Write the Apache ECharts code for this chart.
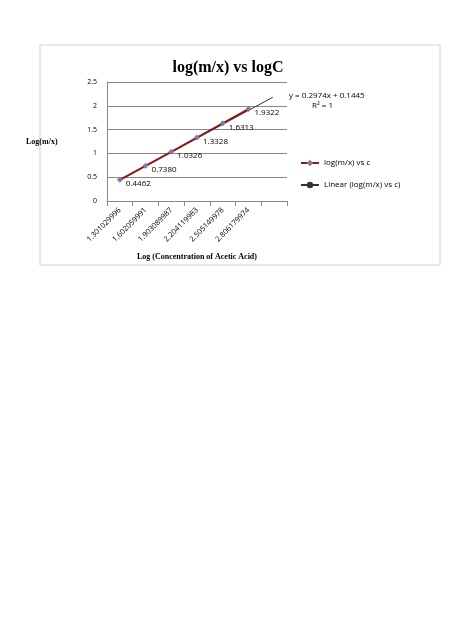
<!DOCTYPE html><html><head><meta charset="utf-8"><script src="https://cdn.jsdelivr.net/npm/echarts@6/dist/echarts.min.js"></script>
<style>html,body{margin:0;background:#fff}#c{width:474px;height:632px}</style></head><body><div id="c"></div><script>
const categories=['1.301029996','1.602059991','1.903089987','2.204119983','2.505149978','2.806179974',''];
const values=[0.4462,0.7380,1.0326,1.3328,1.6313,1.9322];
const trend=[[0,0.4419],[5.95,2.18]];
const c=echarts.init(document.getElementById('c'));
c.setOption({
 animation:false,
 graphic:[{type:'rect',shape:{x:40,y:45,width:400,height:220},style:{fill:'none',stroke:'#d0d0d0',lineWidth:1}},
  {type:'text',left:289,top:92,style:{text:'y = 0.2974x + 0.1445',font:'8px "Open Sans"',fill:'#000'}},
  {type:'text',left:312,top:102,style:{text:'R² = 1',font:'8px "Open Sans"',fill:'#000'}},
  {type:'text',left:26,top:138,style:{text:'Log(m/x)',font:'bold 8px "Liberation Serif"',fill:'#000'}}],
 title:{text:'log(m/x) vs logC',left:223,textAlign:'center',top:55,textStyle:{fontFamily:'Liberation Serif',fontSize:16,fontWeight:'bold',color:'#000'}},
 legend:{orient:'vertical',left:295,top:154,itemGap:14,itemWidth:18,itemHeight:8,textStyle:{fontFamily:'Open Sans',fontSize:8,color:'#000'},
  data:[{name:'log(m/x) vs c'},{name:'Linear (log(m/x) vs c)'}]},
 grid:{left:107,top:82,width:180,height:119},
 xAxis:[{type:'category',data:categories,boundaryGap:true,axisTick:{show:true,alignWithLabel:false},axisLine:{lineStyle:{color:'#888'}},
  axisLabel:{rotate:45,interval:0,fontFamily:'Open Sans',fontSize:7.5,color:'#000'},
  name:'Log (Concentration of Acetic Acid)',nameLocation:'middle',nameGap:52,nameTextStyle:{fontFamily:'Liberation Serif',fontWeight:'bold',fontSize:8,color:'#000'}},
  {type:'value',min:-0.5,max:6.5,show:false}],
 yAxis:{type:'value',min:0,max:2.5,interval:0.5,axisLine:{show:true,onZero:false,lineStyle:{color:'#888'}},axisTick:{show:false},splitLine:{lineStyle:{color:'#888'}},
  axisLabel:{fontFamily:'Open Sans',fontSize:7,color:'#000',margin:10}},
 series:[
  {name:'Linear (log(m/x) vs c)',type:'line',xAxisIndex:1,data:trend,symbol:'none',itemStyle:{color:'#333'},lineStyle:{color:'#333',width:1},z:1},
  {name:'log(m/x) vs c',type:'line',data:values,symbol:'diamond',symbolSize:6,itemStyle:{color:'#8078a8'},lineStyle:{color:'#8b1a1a',width:2},z:2,
   label:{show:true,position:'right',distance:3,fontFamily:'Open Sans',fontSize:8,color:'#000',formatter:p=>p.value.toFixed(4),offset:[0,4]}}]
});
</script></body></html>
